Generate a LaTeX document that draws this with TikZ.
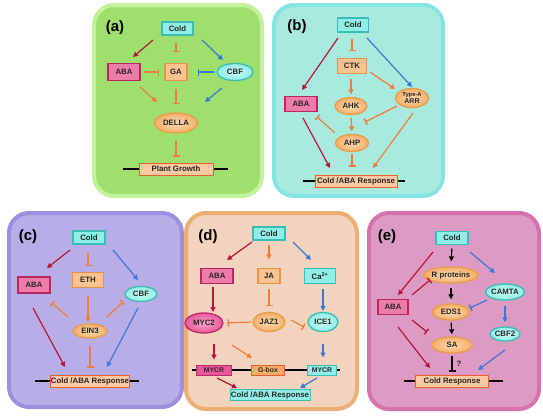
\documentclass[tikz,border=0pt]{standalone}
\usepackage{fontspec}
\setmainfont{Liberation Sans}
\usetikzlibrary{arrows.meta,shapes.geometric,calc}
\definecolor{pA}{HTML}{9FDF6E}\definecolor{gA}{HTML}{C4F29C}
\definecolor{pB}{HTML}{A9EADF}\definecolor{gB}{HTML}{86E4E2}
\definecolor{pC}{HTML}{B8ADE6}\definecolor{gC}{HTML}{9E8FDE}
\definecolor{pD}{HTML}{F2D3BD}\definecolor{gD}{HTML}{EBAE74}
\definecolor{pE}{HTML}{DD9BC4}\definecolor{gE}{HTML}{D672AE}
\definecolor{coldF}{HTML}{8FEFE6}\definecolor{coldD}{HTML}{3CBCB4}
\definecolor{abaF}{HTML}{EE7CAA}\definecolor{abaD}{HTML}{B8285E}
\definecolor{orF}{HTML}{F9C38F}\definecolor{orD}{HTML}{E4944E}
\definecolor{oeF}{HTML}{F5AE6A}\definecolor{oeL}{HTML}{FCD9B0}\definecolor{oeD}{HTML}{E79E48}
\definecolor{cyL}{HTML}{C8FAF4}
\definecolor{mgF}{HTML}{E9579A}\definecolor{mgL}{HTML}{F7A6CA}\definecolor{mgD}{HTML}{BE2A6E}
\definecolor{rsF}{HTML}{F9C9A3}\definecolor{rsD}{HTML}{EC5E2A}
\definecolor{cR}{HTML}{B8143C}\definecolor{cO}{HTML}{F07D3C}
\definecolor{cB}{HTML}{3C78D8}
\tikzset{
 nb/.style={font=\bfseries\fontsize{7.8}{8.5}\selectfont, inner sep=0pt, line width=1.3pt, text=black!85},
 coldbox/.style={nb, rectangle, fill=coldF, draw=coldD, minimum width=31pt, minimum height=13pt},
 ababox/.style={nb, rectangle, fill=abaF, draw=abaD, minimum width=32pt, minimum height=15pt},
 orbox/.style={nb, rectangle, fill=orF, draw=orD, minimum height=15pt},
 orell/.style={nb, ellipse, inner color=oeL, outer color=oeF, draw=oeD},
 cyell/.style={nb, ellipse, inner color=cyL, outer color=coldF, draw=coldD},
 mgell/.style={nb, ellipse, inner color=mgL, outer color=mgF, draw=mgD},
 respbox/.style={nb, rectangle, fill=rsF, draw=rsD, line width=0.9pt, minimum height=12pt},
 cyrect/.style={nb, rectangle, fill=coldF, draw=coldD, line width=0.9pt},
 panel/.style={line width=4pt, rounded corners=20pt},
 plab/.style={font=\bfseries\fontsize{15}{16}\selectfont, inner sep=0pt},
 base/.style={line width=1.2pt, black},
 ra/.style={draw=cR, line width=1.2pt, -{Triangle[length=5pt,width=5pt]}},
 oa/.style={draw=cO, line width=1.2pt, -{Triangle[length=5pt,width=5pt]}},
 ba/.style={draw=cB, line width=1.2pt, -{Triangle[length=5pt,width=5pt]}},
 ka/.style={draw=black, line width=1.2pt, -{Triangle[length=5pt,width=5pt]}},
 ri/.style={draw=cR, line width=1.2pt, -{Bar[width=7pt,line width=1.4pt]}},
 oi/.style={draw=cO, line width=1.2pt, -{Bar[width=7pt,line width=1.4pt]}},
 bi/.style={draw=cB, line width=1.2pt, -{Bar[width=7pt,line width=1.4pt]}},
 ki/.style={draw=black, line width=1.2pt, -{Bar[width=7pt,line width=1.4pt]}},
}
\begin{document}
\begin{tikzpicture}[x=1pt,y=-1pt]
\useasboundingbox (0,0) rectangle (543,415);
% panels
\draw[panel, draw=gA, fill=pA] (94,5) rectangle (262,196);
\draw[panel, draw=gB, fill=pB] (274,5) rectangle (443,196);
\draw[panel, draw=gC, fill=pC] (9,213) rectangle (182,407);
\draw[panel, draw=gD, fill=pD] (186,213) rectangle (357,409);
\draw[panel, draw=gE, fill=pE] (369,213) rectangle (539,409);
\node[plab] (la) at (115,28) {(a)};
\node[plab] (lb) at (297,27) {(b)};
\node[plab] (lc) at (28,237) {(c)};
\node[plab] (ld) at (208,237) {(d)};
\node[plab] (le) at (387,237) {(e)};

% ---------------- (a)
\coordinate (aL) at (123,169); \coordinate (aR) at (228,169);
\draw[base] (aL) -- (aR);
\node[coldbox] (aCold) at (177.5,28.5) {Cold};
\node[ababox, minimum height=17pt] (aABA) at (124,72) {ABA};
\node[orbox, minimum width=22pt, minimum height=17pt] (aGA) at (176,72) {GA};
\node[cyell, minimum width=36pt, minimum height=17pt] (aCBF) at (235,72) {CBF};
\node[orell, minimum width=43pt, minimum height=20pt] (aDELLA) at (176,123) {DELLA};
\node[respbox, minimum width=74pt] (aPG) at (176,169) {Plant Growth};
\draw[ra] ($(aCold)+(-24.5,11.5)$) -- ($(aABA)+(9,-15)$);
\draw[oi, shorten <=7pt, shorten >=10.5pt] (aGA |- aCold.south) -- (aGA.north);
\draw[ba] ($(aCold)+(24.5,11.5)$) -- ($(aCBF)+(-12,-12)$);
\draw[oi, shorten <=3pt, shorten >=5pt] (aABA.east) -- (aGA.west);
\draw[bi, shorten <=2pt, shorten >=10pt] (aCBF.west) -- (aGA.east);
\draw[oa] ($(aABA)+(16,15)$) -- ($(aDELLA)+(-19,-21)$);
\draw[oi, shorten <=8pt, shorten >=8pt] (aGA.south) -- (aDELLA.north);
\draw[ba] ($(aCBF)+(-13,16)$) -- ($(aDELLA)+(29,-21)$);
\draw[oi, shorten <=7pt, shorten >=6pt] (aDELLA.south) -- (aPG.north);

% ---------------- (b)
\coordinate (bL) at (303,181); \coordinate (bR) at (405,181);
\draw[base] (bL) -- (bR);
\node[coldbox, minimum height=14pt] (bCold) at (353,25) {Cold};
\node[orbox, minimum width=29pt] (bCTK) at (352,66) {CTK};
\node[ababox] (bABA) at (301,104) {ABA};
\node[orell, minimum width=32pt, minimum height=17pt] (bAHK) at (351,106) {AHK};
\node[orell, minimum width=33pt, minimum height=19pt, align=center, font=\bfseries\fontsize{7}{7}\selectfont] (bARR) at (412,98) {{\fontsize{5.8}{6.5}\selectfont Type-A}\\ARR};
\node[orell, minimum width=33pt, minimum height=17pt] (bAHP) at (352,143) {AHP};
\node[respbox, minimum width=82pt] (bResp) at (356,181) {Cold /ABA Response};
\draw[ra] ($(bCold)+(-15,13)$) -- ($(bABA)+(1,-14)$);
\draw[oi, shorten <=6pt, shorten >=6.5pt] (bCTK |- bCold.south) -- (bCTK.north);
\draw[ba] ($(bCold)+(14,13)$) -- ($(bARR)+(0,-11)$);
\draw[oa, shorten <=4.5pt, shorten >=2.5pt] (bAHK |- bCTK.south) -- (bAHK.north);
\draw[oa] ($(bCTK)+(18,6)$) -- ($(bARR)+(-17,-9)$);
\draw[oi] ($(bARR)+(-15,8)$) -- ($(bAHK)+(14,16)$);
\draw[oa, shorten <=2.5pt, shorten >=2.5pt] (bAHK.south) -- (bAHP.north);
\draw[oi] ($(bAHP)+(-17,-10)$) -- ($(bABA)+(16,13)$);
\draw[ra] ($(bABA)+(2,14)$) -- ($(bResp)+(-26,-13)$);
\draw[oi, shorten <=2pt, shorten >=8pt] (bAHP.south) -- (bAHP |- bResp.north);
\draw[oa] ($(bARR)+(1,15)$) -- ($(bResp)+(17,-13)$);

% ---------------- (c)
\coordinate (cL) at (35,381); \coordinate (cR) at (139,381);
\draw[base] (cL) -- (cR);
\node[coldbox, minimum width=32pt] (cCold) at (89,237.5) {Cold};
\node[ababox, minimum height=16pt] (cABA) at (34,285) {ABA};
\node[orbox, minimum width=31pt] (cETH) at (88,280) {ETH};
\node[cyell, minimum width=32pt, minimum height=15pt] (cCBF) at (141,294) {CBF};
\node[orell, minimum width=34pt, minimum height=14pt] (cEIN3) at (90,331) {EIN3};
\node[respbox, minimum width=79pt] (cResp) at (90,381) {Cold /ABA Response};
\draw[ra] ($(cCold)+(-19,12.5)$) -- ($(cABA)+(13,-17)$);
\draw[oi, shorten <=8pt, shorten >=5.5pt] (cETH |- cCold.south) -- (cETH.north);
\draw[ba] ($(cCold)+(24,12.5)$) -- ($(cCBF)+(-3,-14)$);
\draw[oa, shorten <=7.5pt, shorten >=1.5pt] (cETH.south) -- (cETH |- cEIN3.north);
\draw[oi] ($(cEIN3)+(-22,-14)$) -- ($(cABA)+(18,18)$);
\draw[oi] ($(cEIN3)+(17,-14)$) -- ($(cCBF)+(-18,8)$);
\draw[ra] ($(cABA)+(-1,23)$) -- ($(cResp)+(-25,-14)$);
\draw[oi, shorten <=7.5pt, shorten >=7pt] (cEIN3.south) -- (cEIN3 |- cResp.north);
\draw[ba] ($(cCBF)+(-3,14)$) -- ($(cResp)+(17,-14)$);

% ---------------- (d)
\coordinate (dL) at (192,370); \coordinate (dR) at (340,370);
\draw[base] (dL) -- (dR);
\node[coldbox, minimum width=32pt] (dCold) at (269,233.5) {Cold};
\node[ababox] (dABA) at (217,276) {ABA};
\node[orbox, minimum width=22pt] (dJA) at (269,276) {JA};
\node[coldbox, minimum height=15pt] (dCa) at (320,276) {Ca\textsuperscript{2+}};
\node[orell, minimum width=32pt, minimum height=19pt] (dJAZ1) at (269,322) {JAZ1};
\node[mgell, minimum width=38pt, minimum height=20pt] (dMYC2) at (204,323) {MYC2};
\node[cyell, minimum width=30pt, minimum height=19pt] (dICE1) at (323,322) {ICE1};
\node[nb, rectangle, fill=mgF, draw=mgD, line width=0.9pt, minimum width=35pt, minimum height=10pt, font=\bfseries\fontsize{6.8}{7}\selectfont] (dMYCRa) at (214,370) {MYCR};
\node[nb, rectangle, fill=oeF, draw=rsD, line width=0.9pt, minimum width=33pt, minimum height=10pt, font=\bfseries\fontsize{6.8}{7}\selectfont] (dGbox) at (268,370) {G-box};
\node[cyrect, minimum width=29pt, minimum height=10pt, font=\bfseries\fontsize{6.8}{7}\selectfont] (dMYCRb) at (322,370) {MYCR};
\node[cyrect, minimum width=80pt, minimum height=11pt] (dResp) at (270,395) {Cold /ABA Response};
\draw[ra] ($(dCold)+(-17,8.5)$) -- ($(dABA)+(10,-16)$);
\draw[oa, shorten <=4pt, shorten >=8.5pt] (dCold.south) -- (dJA.north);
\draw[ba] ($(dCold)+(24,8.5)$) -- ($(dCa)+(-9,-16)$);
\draw[ra] ($(dABA)+(-4,11)$) -- ($(dMYC2)+(9,-11)$);
\draw[oi, shorten <=4.5pt, shorten >=5.5pt] (dJA.south) -- (dJAZ1.north);
\draw[ba, shorten <=4.5pt, shorten >=1pt] (dICE1 |- dCa.south) -- (dICE1.north);
\draw[oi, shorten <=1pt, shorten >=4pt] (dJAZ1.west) -- (dMYC2.east);
\draw[oi] ($(dJAZ1)+(22,-2)$) -- ($(dICE1)+(-19,5)$);
\draw[ra, shorten <=10pt, shorten >=5pt] (dMYCRa |- dMYC2.south) -- (dMYCRa.north);
\draw[oa] ($(dMYC2)+(28,22)$) -- ($(dGbox)+(-16,-12)$);
\draw[ba, shorten <=11.5pt, shorten >=7pt] (dICE1.south) -- (dICE1 |- dMYCRb.north);
\draw[ra] ($(dMYCRa)+(3,8)$) -- ($(dResp)+(-33,-7)$);
\draw[ba] ($(dMYCRb)+(-5,8)$) -- ($(dResp)+(30,-7)$);

% ---------------- (e)
\coordinate (eL) at (404,381); \coordinate (eR) at (503,381);
\draw[base] (eL) -- (eR);
\node[coldbox, minimum width=32pt] (eCold) at (452,238) {Cold};
\node[orell, minimum width=47pt, minimum height=16pt] (eRp) at (451,275) {R proteins};
\node[cyell, minimum width=35pt, minimum height=16pt] (eCAMTA) at (505,292) {CAMTA};
\node[ababox, minimum width=30pt] (eABA) at (393,307) {ABA};
\node[orell, minimum width=37pt, minimum height=16pt] (eEDS1) at (451,312) {EDS1};
\node[cyell, minimum width=30pt, minimum height=14pt] (eCBF2) at (505,334) {CBF2};
\node[orell, minimum width=41pt, minimum height=16pt] (eSA) at (452,345) {SA};
\node[respbox, minimum width=73pt] (eResp) at (452,381) {Cold Response};
\node[nb] (eQ) at (459,364) {?};
\draw[ka, shorten <=3.5pt, shorten >=5pt] (eCold.south) -- (eRp |- eRp.north);
\draw[ka, shorten <=4pt, shorten >=4pt] (eRp.south) -- (eEDS1.north);
\draw[ka, shorten <=2pt, shorten >=2pt] (eEDS1.south) -- (eSA.north);
\draw[ki, shorten <=2pt, shorten >=3pt] (eSA.south) -- (eResp.north);
\draw[ra] ($(eCold)+(-19,14)$) -- ($(eABA)+(5,-12)$);
\draw[ba] ($(eCold)+(18,14)$) -- ($(eCAMTA)+(-10,-19)$);
\draw[ri] ($(eABA)+(19,-12)$) -- ($(eRp)+(-21,5)$);
\draw[bi] ($(eCAMTA)+(-18,8)$) -- ($(eEDS1)+(19,-4)$);
\draw[ba, shorten <=5pt, shorten >=4pt] (eCAMTA.south) -- (eCBF2.north);
\draw[ri] ($(eABA)+(19,13)$) -- ($(eSA)+(-25,-13)$);
\draw[ra] ($(eABA)+(5,20)$) -- ($(eResp)+(-22,-13)$);
\draw[ba] ($(eCBF2)+(0,16)$) -- ($(eResp)+(26,-11)$);
\end{tikzpicture}
\end{document}
